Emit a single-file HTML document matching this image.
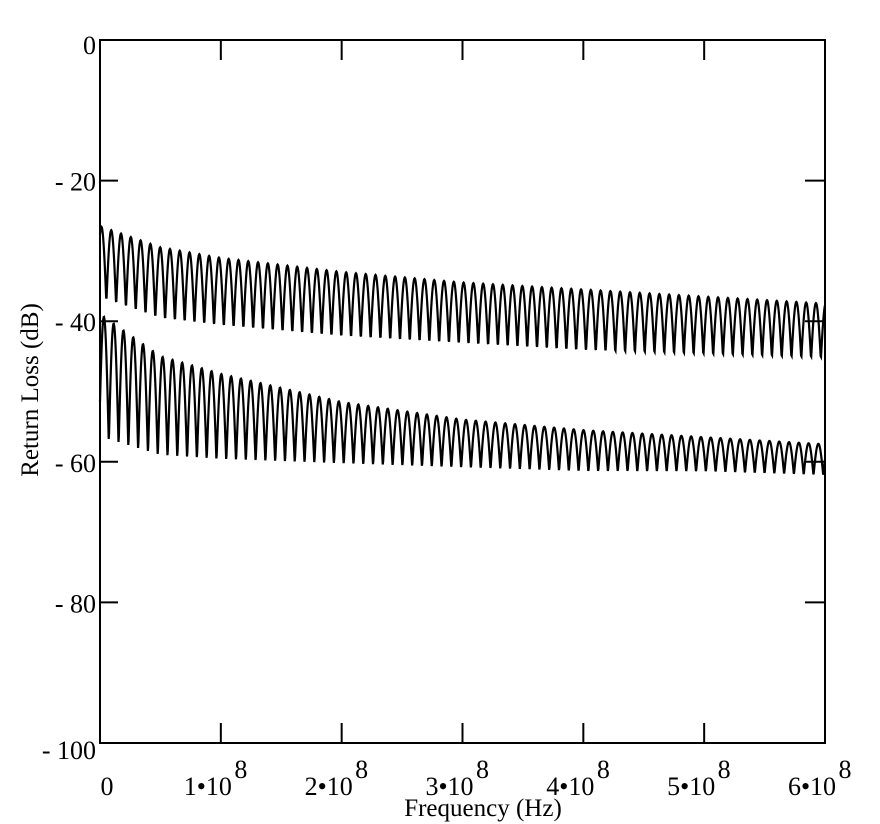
<!DOCTYPE html>
<html><head><meta charset="utf-8"><style>
html,body{margin:0;padding:0;background:#fff;}
svg{display:block;font-family:"Liberation Serif",serif;}
</style></head><body>
<svg id="chart" width="880" height="824" viewBox="0 0 880 824" xmlns="http://www.w3.org/2000/svg">
<g id="series"></g>
<g id="axes"></g>
<text x="483" y="816" font-size="25" text-anchor="middle">Frequency (Hz)</text>
<text transform="translate(38,390) rotate(-90)" font-size="25" text-anchor="middle">Return Loss (dB)</text>
</svg>
<script>
// envelope data (dB) at these frequencies (Hz)
const envFreq = [0, 0.5e8, 1e8, 2e8, 3e8, 4e8, 5e8, 6e8];
const upperPeak = [-26.5, -29.5, -31, -33, -34.5, -35.5, -36.5, -37.5];
const upperTrough = [-37, -40, -41, -42.5, -43.5, -44.5, -45, -45.5];
const lowerPeak = [-39, -45, -47.5, -51.5, -54, -55.5, -56.5, -57.5];
const lowerTrough = [-57, -59.5, -60, -60.5, -61, -61.5, -61.5, -62];
const ripplePeriod = 8.1e6;
const xTicks = [0, 1e8, 2e8, 3e8, 4e8, 5e8, 6e8];
const xTickMant = ["0", "1", "2", "3", "4", "5", "6"];
const yTicks = [0, -20, -40, -60, -80, -100];

const X0=100, X1=825, Y0=40, Y1=743;
const xMin=0, xMax=6e8, yMin=-100, yMax=0;
const sx = v => X0 + (v - xMin) / (xMax - xMin) * (X1 - X0);
const sy = v => Y0 + (yMax - v) / (yMax - yMin) * (Y1 - Y0);
const NS = "http://www.w3.org/2000/svg";
function mk(tag, attrs){const e=document.createElementNS(NS,tag);for(const k in attrs)e.setAttribute(k,attrs[k]);return e;}
function interp(arr, f){
  for(let i=0;i<envFreq.length-1;i++){
    if(f<=envFreq[i+1]){const t=(f-envFreq[i])/(envFreq[i+1]-envFreq[i]);return arr[i]+t*(arr[i+1]-arr[i]);}
  }
  return arr[arr.length-1];
}
const series = document.getElementById('series');
function drawSeries(peak, trough, name, phase){
  let d="";
  const n = 2000;
  for(let i=0;i<=n;i++){
    const f = xMax*i/n;
    const p = interp(peak,f), tr = interp(trough,f);
    const s = Math.abs(Math.sin(Math.PI*(f/ripplePeriod + phase)));
    const v = tr + (p-tr)*s;
    d += (i?"L":"M")+sx(f).toFixed(2)+","+sy(v).toFixed(2);
  }
  const path = mk('path',{d:d,fill:"none",stroke:"#000","stroke-width":"2.2"});
  
  
  series.appendChild(path);
}
drawSeries(upperPeak, upperTrough, 'upper-return-loss-line', 0.35);
drawSeries(lowerPeak, lowerTrough, 'lower-return-loss-line', 0.1);

const axes = document.getElementById('axes');
const frame = mk('rect',{x:X0,y:Y0,width:X1-X0,height:Y1-Y0,fill:"none",stroke:"#000","stroke-width":"2"});


axes.appendChild(frame);
xTicks.forEach((t,i)=>{
  const x=sx(t);
  const a=mk('line',{x1:x,y1:Y1,x2:x,y2:Y1-20,stroke:"#000","stroke-width":"2"});
  
  
  axes.appendChild(a);
  const b=mk('line',{x1:x,y1:Y0,x2:x,y2:Y0+20,stroke:"#000","stroke-width":"2"});
  
  
  axes.appendChild(b);
  const tx=mk('text',{"font-size":"26"});
  
  
  if(t===0){
    tx.setAttribute('x', x+7); tx.setAttribute('y', 795); tx.setAttribute('text-anchor','middle');
    tx.textContent = xTickMant[i];
  } else {
    tx.setAttribute('x', x-13); tx.setAttribute('y', 795); tx.setAttribute('text-anchor','middle');
    tx.textContent = xTickMant[i]+"\u202210";
    const sup=mk('text',{x:x+20,y:778,"font-size":"26","text-anchor":"middle"});
    
    
    sup.textContent="8";
    axes.appendChild(sup);
  }
  axes.appendChild(tx);
});
yTicks.forEach(t=>{
  const y=sy(t);
  const a=mk('line',{x1:X0,y1:y,x2:X0+18,y2:y,stroke:"#000","stroke-width":"2"});
  
  
  axes.appendChild(a);
  const b=mk('line',{x1:X1,y1:y,x2:X1-20,y2:y,stroke:"#000","stroke-width":"2"});
  
  
  axes.appendChild(b);
  const tx=mk('text',{x:X0-4,y:y+(t===0?14:t===-100?16:10),"font-size":"26","text-anchor":"end"});
  
  
  tx.textContent = t===0 ? "0" : "- "+Math.abs(t);
  axes.appendChild(tx);
});
</script>
</body></html>
